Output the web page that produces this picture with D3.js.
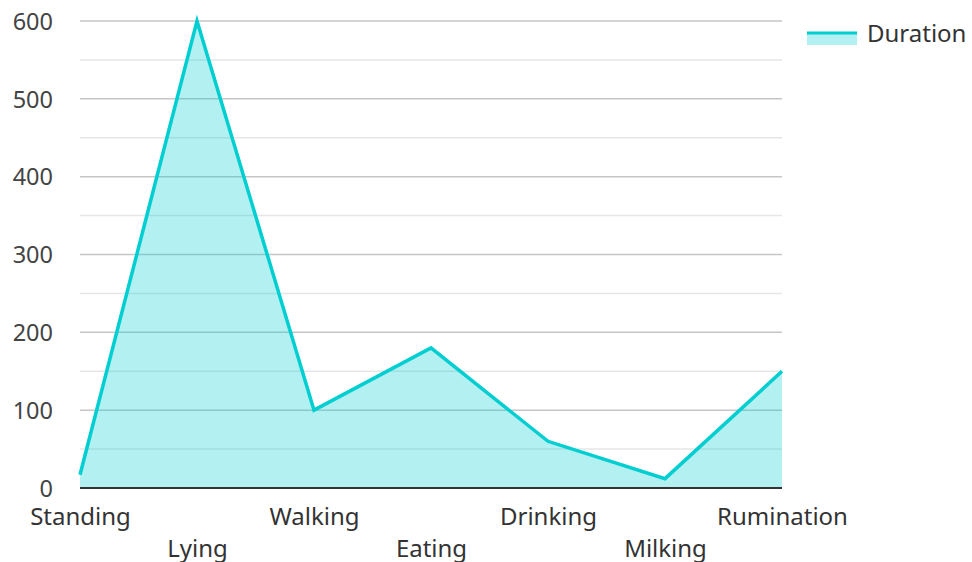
<!DOCTYPE html>
<html><head><meta charset="utf-8">
<script src="https://cdn.jsdelivr.net/npm/d3@7"></script>
<style>body{margin:0;background:#fff;} svg{display:block;font-family:"Noto Sans",sans-serif;}</style>
</head><body><svg id="c" width="972" height="562"></svg>
<script>
const categories = ["Standing","Lying","Walking","Eating","Drinking","Milking","Rumination"];
const durations = [17, 600, 100, 180, 60, 12, 150];
const yTicks = [0,100,200,300,400,500,600];
const minorTicks = [50,150,250,350,450,550];
const seriesName = "Duration";

const svg = d3.select("#c");
const L=80, R=782, T=21, B=488;
const x = d3.scalePoint().domain(categories).range([L,R]);
const y = d3.scaleLinear().domain([0,600]).range([B,T]);
const color = "#00CED1";

// minor grid
svg.append("g").selectAll("line").data(minorTicks).join("line")
  .attr("x1",L).attr("x2",R).attr("y1",d=>y(d)).attr("y2",d=>y(d))
  .attr("stroke","#e6e6e6").attr("stroke-width",1.5);
// major grid
svg.append("g").selectAll("line").data(yTicks.filter(d=>d>0)).join("line")
  .attr("x1",L).attr("x2",R).attr("y1",d=>y(d)).attr("y2",d=>y(d))
  .attr("stroke","#c6c6c6").attr("stroke-width",1.5);

const data = categories.map((c,i)=>({c, v:durations[i]}));
svg.append("path").datum(data)
  .attr("d", d3.area().x(d=>x(d.c)).y0(B).y1(d=>y(d.v)))
  .attr("fill",color).attr("fill-opacity",0.3);
svg.append("path").datum(data)
  .attr("d", d3.line().x(d=>x(d.c)).y(d=>y(d.v)))
  .attr("fill","none").attr("stroke",color).attr("stroke-width",3.5).attr("stroke-linejoin","miter");

// baseline
svg.append("line").attr("x1",L).attr("x2",R).attr("y1",B).attr("y2",B)
  .attr("stroke","#333").attr("stroke-width",2);

// y labels
const yAxis = d3.axisLeft(y).tickValues(yTicks).tickSize(0).tickPadding(0);
const gy = svg.append("g").attr("transform",`translate(53,0)`).call(yAxis);
gy.select(".domain").remove();
gy.selectAll("text").attr("font-size",23.5).attr("fill","#444").attr("font-family","Noto Sans").attr("dy","0.35em");

// x labels
const xAxis = d3.axisBottom(x).tickSize(0).tickPadding(0);
const gx = svg.append("g").attr("transform",`translate(0,0)`).call(xAxis);
gx.select(".domain").remove();
gx.selectAll("text").attr("font-size",24).attr("fill","#333").attr("font-family","Noto Sans")
  .attr("dy",null)
  .attr("y",(d,i)=> i%2===0 ? 525 : 557);

// legend
const lg = svg.append("g");
lg.append("rect").attr("x",807).attr("y",33).attr("width",50).attr("height",12).attr("fill",color).attr("fill-opacity",0.3);
lg.append("line").attr("x1",807).attr("x2",857).attr("y1",33).attr("y2",33).attr("stroke",color).attr("stroke-width",3);
lg.append("text").attr("x",867).attr("y",42).attr("font-size",24).attr("fill","#333").text(seriesName);
</script></body></html>
